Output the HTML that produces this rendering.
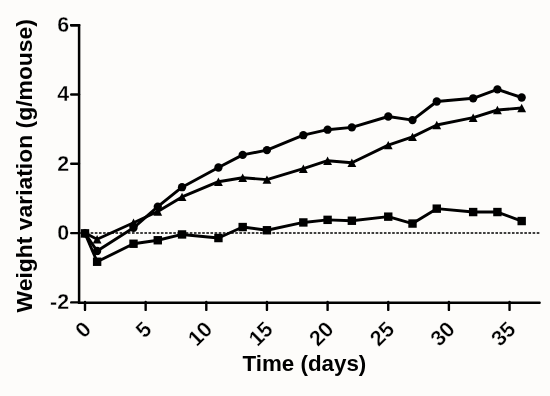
<!DOCTYPE html>
<html><head><meta charset="utf-8"><style>
html,body{margin:0;padding:0;background:#fdfcfa;}
svg{display:block;}
text{font-family:"Liberation Sans",Arial,sans-serif;font-weight:bold;fill:#000;stroke:#fdfcfa;stroke-width:0.3px;}
</style></head><body>
<svg width="550" height="396" viewBox="0 0 550 396">
<rect width="550" height="396" fill="#fdfcfa"/>
<line x1="78.3" y1="233.10" x2="539.6" y2="233.10" stroke="#000" stroke-width="1.5" stroke-dasharray="2.6 1.53"/>
<path d="M71.2 25.3 H79.1 V302.65 H539.6" stroke="#000" stroke-width="2.5" fill="none" stroke-linecap="round" stroke-linejoin="miter"/>
<line x1="71.2" y1="25.20" x2="79" y2="25.20" stroke="#000" stroke-width="2.4" stroke-linecap="round"/>
<text font-size="21.4" text-anchor="end" transform="translate(69.15,32.10) ">6</text>
<line x1="71.2" y1="94.50" x2="79" y2="94.50" stroke="#000" stroke-width="2.4" stroke-linecap="round"/>
<text font-size="21.4" text-anchor="end" transform="translate(69.15,101.40) ">4</text>
<line x1="71.2" y1="163.80" x2="79" y2="163.80" stroke="#000" stroke-width="2.4" stroke-linecap="round"/>
<text font-size="21.4" text-anchor="end" transform="translate(69.15,170.70) ">2</text>
<line x1="71.2" y1="233.10" x2="79" y2="233.10" stroke="#000" stroke-width="2.4" stroke-linecap="round"/>
<text font-size="21.4" text-anchor="end" transform="translate(69.15,240.00) ">0</text>
<line x1="71.2" y1="302.40" x2="79" y2="302.40" stroke="#000" stroke-width="2.4" stroke-linecap="round"/>
<text font-size="21.4" text-anchor="end" transform="translate(69.15,309.30) ">-2</text>
<line x1="85.00" y1="302" x2="85.00" y2="309.9" stroke="#000" stroke-width="2.4" stroke-linecap="round"/>
<text font-size="21.4" text-anchor="end" transform="translate(92.30,330.50) rotate(-45) ">0</text>
<line x1="145.65" y1="302" x2="145.65" y2="309.9" stroke="#000" stroke-width="2.4" stroke-linecap="round"/>
<text font-size="21.4" text-anchor="end" transform="translate(152.95,330.50) rotate(-45) ">5</text>
<line x1="206.30" y1="302" x2="206.30" y2="309.9" stroke="#000" stroke-width="2.4" stroke-linecap="round"/>
<text font-size="21.4" text-anchor="end" transform="translate(213.60,330.50) rotate(-45) ">10</text>
<line x1="266.95" y1="302" x2="266.95" y2="309.9" stroke="#000" stroke-width="2.4" stroke-linecap="round"/>
<text font-size="21.4" text-anchor="end" transform="translate(274.25,330.50) rotate(-45) ">15</text>
<line x1="327.60" y1="302" x2="327.60" y2="309.9" stroke="#000" stroke-width="2.4" stroke-linecap="round"/>
<text font-size="21.4" text-anchor="end" transform="translate(334.90,330.50) rotate(-45) ">20</text>
<line x1="388.25" y1="302" x2="388.25" y2="309.9" stroke="#000" stroke-width="2.4" stroke-linecap="round"/>
<text font-size="21.4" text-anchor="end" transform="translate(395.55,330.50) rotate(-45) ">25</text>
<line x1="448.90" y1="302" x2="448.90" y2="309.9" stroke="#000" stroke-width="2.4" stroke-linecap="round"/>
<text font-size="21.4" text-anchor="end" transform="translate(456.20,330.50) rotate(-45) ">30</text>
<line x1="509.55" y1="302" x2="509.55" y2="309.9" stroke="#000" stroke-width="2.4" stroke-linecap="round"/>
<text font-size="21.4" text-anchor="end" transform="translate(516.85,330.50) rotate(-45) ">35</text>
<text x="304.4" y="370.6" font-size="22.35" text-anchor="middle" style="stroke:none">Time (days)</text>
<text font-size="22.9" text-anchor="middle" style="stroke:none" transform="translate(31.6,165.75) rotate(-90)">Weight variation (g/mouse)</text>
<polyline points="85.00,233.40 97.13,251.00 133.52,227.80 157.78,206.70 182.04,187.20 218.43,167.50 242.69,154.90 266.95,150.10 303.34,135.20 327.60,129.70 351.86,127.40 388.25,116.50 412.51,120.10 436.77,101.50 473.16,98.30 497.42,89.40 521.68,97.50" fill="none" stroke="#000" stroke-width="2.9" stroke-linejoin="round"/>
<polyline points="85.00,233.00 97.13,239.20 133.52,222.80 157.78,211.50 182.04,196.90 218.43,181.70 242.69,177.70 266.95,179.60 303.34,168.70 327.60,160.70 351.86,162.80 388.25,145.10 412.51,136.90 436.77,125.00 473.16,117.70 497.42,110.00 521.68,108.00" fill="none" stroke="#000" stroke-width="2.9" stroke-linejoin="round"/>
<polyline points="85.00,233.35 97.13,261.75 133.52,243.75 157.78,240.25 182.04,234.45 218.43,238.05 242.69,227.05 266.95,230.25 303.34,222.45 327.60,219.85 351.86,220.75 388.25,216.65 412.51,223.55 436.77,208.65 473.16,212.05 497.42,212.05 521.68,221.05" fill="none" stroke="#000" stroke-width="2.9" stroke-linejoin="round"/>
<circle cx="85.00" cy="233.40" r="4.15"/>
<circle cx="97.13" cy="251.00" r="4.15"/>
<circle cx="133.52" cy="227.80" r="4.15"/>
<circle cx="157.78" cy="206.70" r="4.15"/>
<circle cx="182.04" cy="187.20" r="4.15"/>
<circle cx="218.43" cy="167.50" r="4.15"/>
<circle cx="242.69" cy="154.90" r="4.15"/>
<circle cx="266.95" cy="150.10" r="4.15"/>
<circle cx="303.34" cy="135.20" r="4.15"/>
<circle cx="327.60" cy="129.70" r="4.15"/>
<circle cx="351.86" cy="127.40" r="4.15"/>
<circle cx="388.25" cy="116.50" r="4.15"/>
<circle cx="412.51" cy="120.10" r="4.15"/>
<circle cx="436.77" cy="101.50" r="4.15"/>
<circle cx="473.16" cy="98.30" r="4.15"/>
<circle cx="497.42" cy="89.40" r="4.15"/>
<circle cx="521.68" cy="97.50" r="4.15"/>
<path d="M85.00 228.80 L89.40 237.20 L80.60 237.20Z"/>
<path d="M97.13 235.00 L101.53 243.40 L92.73 243.40Z"/>
<path d="M133.52 218.60 L137.92 227.00 L129.12 227.00Z"/>
<path d="M157.78 207.30 L162.18 215.70 L153.38 215.70Z"/>
<path d="M182.04 192.70 L186.44 201.10 L177.64 201.10Z"/>
<path d="M218.43 177.50 L222.83 185.90 L214.03 185.90Z"/>
<path d="M242.69 173.50 L247.09 181.90 L238.29 181.90Z"/>
<path d="M266.95 175.40 L271.35 183.80 L262.55 183.80Z"/>
<path d="M303.34 164.50 L307.74 172.90 L298.94 172.90Z"/>
<path d="M327.60 156.50 L332.00 164.90 L323.20 164.90Z"/>
<path d="M351.86 158.60 L356.26 167.00 L347.46 167.00Z"/>
<path d="M388.25 140.90 L392.65 149.30 L383.85 149.30Z"/>
<path d="M412.51 132.70 L416.91 141.10 L408.11 141.10Z"/>
<path d="M436.77 120.80 L441.17 129.20 L432.37 129.20Z"/>
<path d="M473.16 113.50 L477.56 121.90 L468.76 121.90Z"/>
<path d="M497.42 105.80 L501.82 114.20 L493.02 114.20Z"/>
<path d="M521.68 103.80 L526.08 112.20 L517.28 112.20Z"/>
<rect x="80.80" y="229.15" width="8.4" height="8.4"/>
<rect x="92.93" y="257.55" width="8.4" height="8.4"/>
<rect x="129.32" y="239.55" width="8.4" height="8.4"/>
<rect x="153.58" y="236.05" width="8.4" height="8.4"/>
<rect x="177.84" y="230.25" width="8.4" height="8.4"/>
<rect x="214.23" y="233.85" width="8.4" height="8.4"/>
<rect x="238.49" y="222.85" width="8.4" height="8.4"/>
<rect x="262.75" y="226.05" width="8.4" height="8.4"/>
<rect x="299.14" y="218.25" width="8.4" height="8.4"/>
<rect x="323.40" y="215.65" width="8.4" height="8.4"/>
<rect x="347.66" y="216.55" width="8.4" height="8.4"/>
<rect x="384.05" y="212.45" width="8.4" height="8.4"/>
<rect x="408.31" y="219.35" width="8.4" height="8.4"/>
<rect x="432.57" y="204.45" width="8.4" height="8.4"/>
<rect x="468.96" y="207.85" width="8.4" height="8.4"/>
<rect x="493.22" y="207.85" width="8.4" height="8.4"/>
<rect x="517.48" y="216.85" width="8.4" height="8.4"/>
</svg></body></html>
